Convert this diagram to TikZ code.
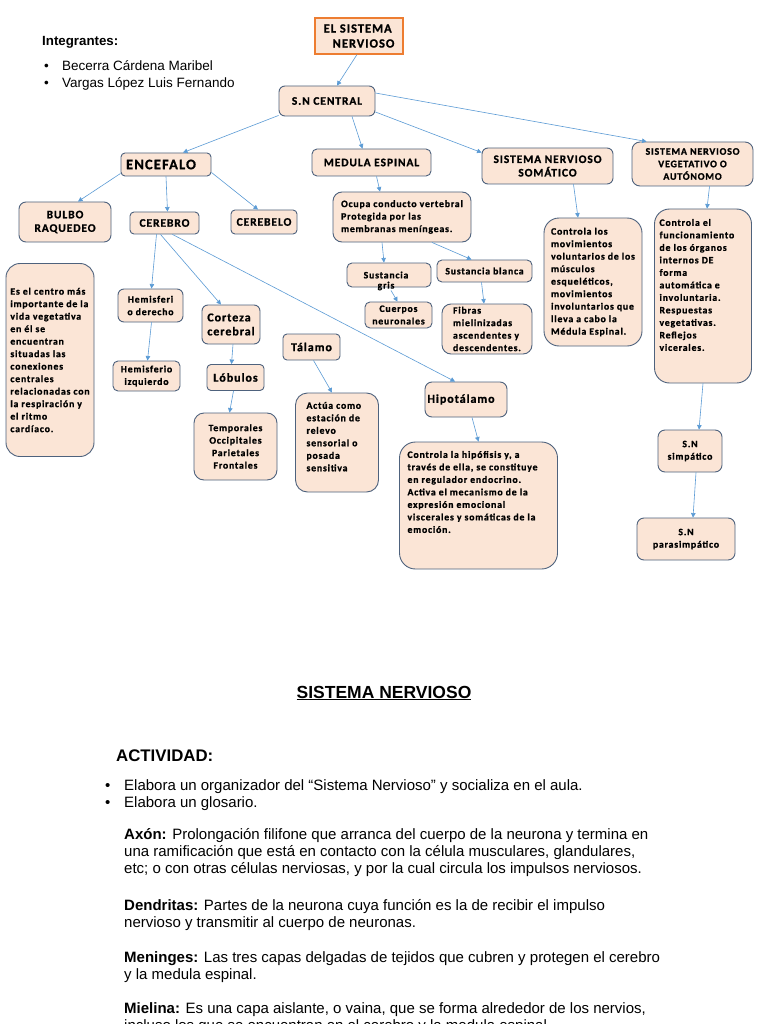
\documentclass[tikz,border=0pt]{standalone}
\usepackage{fontspec}
\setmainfont{Liberation Sans}
\newfontfamily\cajafont{Carlito}[LetterSpace=8, BoldFeatures={FakeBold=1}]
\usetikzlibrary{arrows.meta,positioning,calc}

\definecolor{durazno}{RGB}{251,229,214}
\definecolor{bordeCaja}{RGB}{78,98,125}
\definecolor{naranja}{RGB}{237,125,49}
\definecolor{flechaAzul}{RGB}{91,155,213}

\begin{document}
\begin{tikzpicture}[
            x=1pt, y=-1pt,
            caja/.style={
                    draw=bordeCaja,
                    fill=durazno,
                    rectangle,
                    rounded corners=4pt,
                    line width=0.9pt,
                    inner sep=1pt,
                    align=center,
                    font=\cajafont\bfseries\fontsize{9.8}{12.5}\selectfont
                },
            cajaTexto/.style={
                    caja,
                    rounded corners=12pt,
                    align=left
                },
            titulo/.style={
                    font=\cajafont\bfseries\fontsize{11.5}{13.5}\selectfont
                },
            medio/.style={
                    font=\cajafont\bfseries\fontsize{12}{14}\selectfont
                },
            flecha/.style={
            -{Triangle[length=4.5pt,width=4.5pt]},
            color=flechaAzul,
            line width=0.6pt
            },
            parrafo/.style={
                    anchor=base west,
                    inner sep=0pt,
                    font=\fontsize{15}{17.3}\selectfont
                }
            ]

            \fill[white] (0,0) rectangle (768,1024);
            \useasboundingbox (0,0) rectangle (768,1024);

            % --- integrantes ---
            \node[anchor=west, inner sep=0pt, font=\bfseries\fontsize{13.3}{16}\selectfont] (integrantes) at (42,42) {Integrantes:};
            \node[anchor=base west, inner sep=0pt, font=\fontsize{13.5}{17}\selectfont] (nombres) at (44,71) {
                \begin{tabular}[t]{@{}p{18pt}@{}l@{}}
                    \textbullet & Becerra Cárdena Maribel \\
                    \textbullet & Vargas López Luis Fernando
                \end{tabular}
            };

            % --- nivel 1 y 2 ---
            \node[caja, sharp corners, draw=naranja, line width=1.1pt, minimum width=88pt, minimum height=36pt, align=left, font=\cajafont\bfseries\fontsize{12.5}{15}\selectfont] (elSistema) at (359,36) {EL SISTEMA\\\hspace*{9pt}NERVIOSO};

            \node[caja, titulo, minimum width=96pt, minimum height=30pt, rounded corners=6pt] (snCentral) at (327,101) {S.N CENTRAL};

            \node[caja, minimum width=90pt, minimum height=23pt, font=\cajafont\bfseries\fontsize{14.5}{16}\selectfont] (encefalo) at (166,164.5) {ENCEFALO\hspace*{10pt}};
            \node[caja, titulo, minimum width=119pt, minimum height=27pt, rounded corners=5pt] (medula) at (371.5,162.5) {MEDULA ESPINAL};
            \node[caja, titulo, minimum width=131pt, minimum height=36pt, rounded corners=6pt] (somatico) at (547.5,166) {SISTEMA NERVIOSO\\SOMÁTICO};
            \node[caja, minimum width=121pt, minimum height=44pt, rounded corners=8pt, font=\cajafont\bfseries\fontsize{10}{12.5}\selectfont] (vegetativo) at (692.5,164) {SISTEMA NERVIOSO\\VEGETATIVO O\\AUTÓNOMO};

            % --- encefalo ---
            \node[caja, titulo, minimum width=92pt, minimum height=40pt, rounded corners=7pt] (bulbo) at (65,222) {BULBO\\RAQUEDEO};
            \node[caja, titulo, minimum width=69pt, minimum height=22pt] (cerebro) at (164.5,223) {CEREBRO};
            \node[caja, titulo, minimum width=66pt, minimum height=24pt] (cerebelo) at (264,222) {CEREBELO};

            \node[cajaTexto, minimum width=88pt, minimum height=193pt, rounded corners=14pt] (centroVida) at (50,360) {
                Es el centro más\\importante de la\\vida vegetativa\\en él se\\encuentran\\situadas las\\conexiones\\centrales\\relacionadas con\\la respiración y\\el ritmo\\cardíaco.
            };

            % --- cerebro ---
            \node[caja, minimum width=65pt, minimum height=33pt, rounded corners=6pt] (hemDer) at (150.5,305.5) {Hemisferi\\o derecho};
            \node[caja, minimum width=67pt, minimum height=30pt, rounded corners=5pt] (hemIzq) at (146.5,376) {Hemisferio\\izquierdo};
            \node[caja, medio, minimum width=58pt, minimum height=39pt, rounded corners=6pt, align=left] (corteza) at (231,324.5) {Corteza\\cerebral};
            \node[caja, medio, minimum width=57pt, minimum height=26pt] (lobulos) at (235.5,377.5) {Lóbulos};
            \node[caja, minimum width=83pt, minimum height=67pt, rounded corners=10pt] (lobTipos) at (235.5,446.5) {Temporales\\Occipitales\\Parietales\\Frontales};

            \node[caja, medio, minimum width=57pt, minimum height=26pt] (talamo) at (311.5,347) {Tálamo};
            \node[cajaTexto, inner sep=0pt, minimum width=80pt] (talamoDesc) at (337,442.5) {
                \parbox[c][99pt][t]{80pt}{\raggedright\leftskip=11pt\vspace*{9pt}Actúa como\\estación de\\relevo\\sensorial o\\posada\\sensitiva}
            };

            \node[caja, medio, minimum width=82pt, minimum height=35pt, rounded corners=7pt] (hipotalamo) at (466,399.5) {Hipotálamo\hspace*{10pt}};
            \node[cajaTexto, inner sep=0pt, minimum width=155pt, rounded corners=16pt] (hipoDesc) at (478.5,505.5) {
                \parbox[c][127pt][t]{155pt}{\raggedright\leftskip=8pt\vspace*{9pt}Controla la hipófisis y, a\\través de ella, se constituye\\en regulador endocrino.\\Activa el mecanismo de la\\expresión emocional\\viscerales y somáticas de la\\emoción.}
            };

            % --- medula espinal ---
            \node[cajaTexto, minimum width=138pt, minimum height=50pt, rounded corners=9pt] (ocupa) at (402,217) {Ocupa conducto vertebral\\Protegida por las\\membranas meníngeas.};
            \node[caja, minimum width=84pt, minimum height=24pt, rounded corners=5pt] (susGris) at (389,275) {Sustancia\hspace*{6pt}};
            \node[inner sep=0pt, font=\cajafont\bfseries\fontsize{9.8}{12.5}\selectfont] (susGrisB) at (386,286) {gris};
            \node[caja, minimum width=67pt, minimum height=26pt, rounded corners=5pt] (cuerpos) at (398.5,315) {Cuerpos\\neuronales};
            \node[caja, minimum width=95pt, minimum height=22pt, rounded corners=5pt] (susBlanca) at (484.5,271) {Sustancia blanca};
            \node[cajaTexto, minimum width=90pt, minimum height=50pt, rounded corners=9pt] (fibras) at (487,329) {Fibras\\mielinizadas\\ascendentes y\\descendentes.};

            % --- somatico y vegetativo ---
            \node[cajaTexto, minimum width=98pt, minimum height=128pt, rounded corners=15pt] (somDesc) at (593,282) {
                Controla los\\movimientos\\voluntarios de los\\músculos\\esqueléticos,\\movimientos\\involuntarios que\\lleva a cabo la\\Médula Espinal.
            };
            \node[cajaTexto, inner sep=0pt, minimum width=94pt, rounded corners=15pt] (vegDesc) at (703,296) {
                \parbox[c][174pt][t]{94pt}{\raggedright\leftskip=5pt\vspace*{10pt}Controla el\\funcionamiento\\de los órganos\\internos DE\\forma\\automática e\\involuntaria.\\Respuestas\\vegetativas.\\Reflejos\\vicerales.}
            };
            \node[caja, minimum width=64pt, minimum height=42pt, rounded corners=7pt] (simpatico) at (690,451) {S.N\\simpático};
            \node[caja, minimum width=98pt, minimum height=42pt, rounded corners=7pt] (parasimp) at (686,539) {S.N\\parasimpático};

            % --- conexiones ---
            \draw[flecha] ([xshift=-2pt]elSistema.south) -- ([xshift=10pt]snCentral.north);
            \draw[flecha] ([yshift=1pt]snCentral.south west) -- ([xshift=17pt]encefalo.north);
            \draw[flecha] ([xshift=25pt]snCentral.south) -- ([xshift=-9pt]medula.north);
            \draw[flecha] ([yshift=-11pt]snCentral.east) -- ([yshift=-5pt]somatico.north west);
            \draw[flecha] ([yshift=8pt]snCentral.east) -- ([xshift=15pt]vegetativo.north west);
            \draw[flecha] ([yshift=3pt]encefalo.south west) -- ([xshift=13pt]bulbo.north);
            \draw[flecha] (encefalo.south) -- ([xshift=3pt]cerebro.north);
            \draw[flecha] ([yshift=4pt]encefalo.south east) -- ([xshift=-6pt]cerebelo.north);
            \draw[flecha] ([xshift=-8pt]cerebro.south) -- ([xshift=1pt]hemDer.north);
            \draw[flecha] ([xshift=-4pt]cerebro.south) -- ([xshift=-10pt]corteza.north);
            \draw[flecha] ([xshift=8pt]cerebro.south) -- ([xshift=-11pt]hipotalamo.north);
            \draw[flecha] ([xshift=1pt]hemDer.south) -- ([xshift=1pt]hemIzq.north);
            \draw[flecha] ([xshift=2pt]corteza.south) -- ([xshift=-4pt]lobulos.north);
            \draw[flecha] ([xshift=-2pt]lobulos.south) -- ([xshift=-6pt]lobTipos.north);
            \draw[flecha] ([xshift=2pt]talamo.south) -- ([xshift=-5pt]talamoDesc.north);
            \draw[flecha] ([xshift=6pt]hipotalamo.south) -- (hipoDesc.north);
            \draw[flecha] ([xshift=5pt]medula.south) -- ([xshift=-22pt]ocupa.north);
            \draw[flecha] ([xshift=-20pt]ocupa.south) -- ([xshift=-5pt]susGris.north);
            \draw[flecha] ([xshift=30pt]ocupa.south) -- ([xshift=-13pt]susBlanca.north);
            \draw[flecha] ([xshift=5pt]susGrisB.south) -- ([xshift=-1pt]cuerpos.north);
            \draw[flecha] ([xshift=-3pt]susBlanca.south) -- ([xshift=-3pt]fibras.north);
            \draw[flecha] ([xshift=26pt]somatico.south) -- ([xshift=-15pt]somDesc.north);
            \draw[flecha] ([xshift=17pt]vegetativo.south) -- ([xshift=4pt]vegDesc.north);
            \draw[flecha] (vegDesc.south) -- ([xshift=9pt]simpatico.north);
            \draw[flecha] ([xshift=6pt]simpatico.south) -- ([xshift=7pt]parasimp.north);

            % --- actividad y glosario ---
            \node[anchor=base, inner sep=0pt, font=\bfseries\fontsize{17.5}{20}\selectfont] (tituloSN) at (384,698) {\underline{SISTEMA NERVIOSO}};
            \node[anchor=base west, inner sep=0pt, font=\bfseries\fontsize{16.8}{19}\selectfont] (actividad) at (116,761) {ACTIVIDAD:};
            \node[parrafo] (tareas) at (105,790) {
                \begin{tabular}[t]{@{}p{19pt}@{}l@{}}
                    \textbullet & Elabora un organizador del “Sistema Nervioso” y socializa en el aula. \\
                    \textbullet & Elabora un glosario.
                \end{tabular}
            };
            \node[parrafo] (axon) at (124,839) {\parbox[t]{640pt}{\textbf{Axón:} Prolongación filifone que arranca del cuerpo de la neurona y termina en\\una ramificación que está en contacto con la célula musculares, glandulares,\\etc; o con otras células nerviosas, y por la cual circula los impulsos nerviosos.}};
            \node[parrafo] (dendritas) at (124,910) {\parbox[t]{640pt}{\textbf{Dendritas:} Partes de la neurona cuya función es la de recibir el impulso\\nervioso y transmitir al cuerpo de neuronas.}};
            \node[parrafo] (meninges) at (124,962) {\parbox[t]{640pt}{\textbf{Meninges:} Las tres capas delgadas de tejidos que cubren y protegen el cerebro\\y la medula espinal.}};
            \node[parrafo] (mielina) at (124,1013) {\parbox[t]{640pt}{\textbf{Mielina:} Es una capa aislante, o vaina, que se forma alrededor de los nervios,\\incluso los que se encuentran en el cerebro y la medula espinal.}};

        \end{tikzpicture}
\end{document}
